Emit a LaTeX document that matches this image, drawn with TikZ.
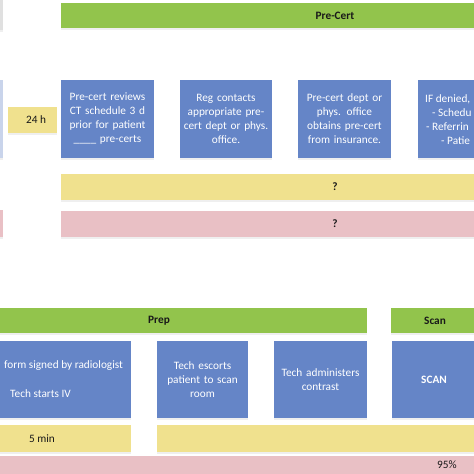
\documentclass[tikz,border=0pt]{standalone}
\usepackage{fontspec}
\setmainfont{Carlito}
\usetikzlibrary{shadows}
\definecolor{bargreen}{RGB}{146,196,76}
\definecolor{boxblue}{RGB}{101,133,199}
\definecolor{baryellow}{RGB}{240,225,142}
\definecolor{barpink}{RGB}{233,192,197}
\definecolor{txtdark}{RGB}{25,25,25}
\tikzset{
  rect/.style={anchor=north west, inner sep=0pt, outer sep=0pt, draw=none,
     drop shadow={opacity=0.12, shadow xshift=0pt, shadow yshift=-1.5pt}},
  greenbar/.style={rect, fill=bargreen},
  bluebox/.style={rect, fill=boxblue, text=white, align=center, font=\fontsize{11.3}{14}\selectfont},
  yellowbar/.style={rect, fill=baryellow},
  pinkbar/.style={rect, fill=barpink},
  bartext/.style={inner sep=0pt, text=txtdark, font=\fontsize{11.3}{13}\selectfont\bfseries},
  plaintext/.style={inner sep=0pt, text=txtdark, font=\fontsize{11.3}{13}\selectfont},
  whitetext/.style={inner sep=0pt, text=white, font=\fontsize{11.3}{13}\selectfont, anchor=west},
}
\begin{document}
\begin{tikzpicture}[x=1pt,y=-1pt]
\useasboundingbox (0,0) rectangle (474,474);
\fill[white] (0,0) rectangle (474,474);
\clip (0,0) rectangle (474,474);
% left slivers
\node[rect, fill=black!12, minimum width=2.5pt, minimum height=30pt] (s1) at (0,0) {};
\node[rect, fill=boxblue!35, minimum width=2.5pt, minimum height=78pt] (s2) at (0,80) {};
\node[rect, fill=barpink, minimum width=2.5pt, minimum height=27pt] (s3) at (0,210) {};
% Pre-Cert bar
\node[greenbar, minimum width=420pt, minimum height=25pt] (precert) at (61,3) {};
\node[bartext] (precertL) at (335,16) {Pre-Cert};
% 24 h
\node[yellowbar, minimum width=49pt, minimum height=26pt] (h24) at (8,107) {};
\node[plaintext] (h24L) at (36,120) {24 h};
% blue boxes top row
\node[bluebox, minimum width=93pt, minimum height=78pt, text width=93pt] (b1) at (61,80)
  {Pre-cert reviews\\CT schedule 3 d\\prior for patient\\\_\_\_\_ pre-certs};
\node[bluebox, minimum width=92pt, minimum height=78pt, text width=92pt] (b2) at (180,80)
  {Reg contacts\\appropriate pre-\\cert dept or phys.\\office.};
\node[bluebox, minimum width=93pt, minimum height=78pt, text width=93pt] (b3) at (298,80)
  {Pre-cert dept or\\phys. office\\obtains pre-cert\\from insurance.};
\node[bluebox, minimum width=80pt, minimum height=78pt] (b4) at (418,80) {};
\node[whitetext] (b4a) at (425,99) {IF denied,};
\node[whitetext] (b4b) at (432,113) {- Schedu};
\node[whitetext] (b4c) at (426,127) {- Referrin};
\node[whitetext] (b4d) at (441,141) {- Patie};
% ? bars
\node[yellowbar, minimum width=420pt, minimum height=26pt] (q1) at (61,174) {};
\node[bartext] (q1L) at (335,187) {?};
\node[pinkbar, minimum width=420pt, minimum height=26pt] (q2) at (61,211) {};
\node[bartext] (q2L) at (335,224) {?};
% Prep / Scan bars
\node[greenbar, minimum width=367pt, minimum height=25pt] (prep) at (0,308) {};
\node[bartext] (prepL) at (159,321) {Prep};
\node[greenbar, minimum width=90pt, minimum height=25pt] (scan) at (391,308) {};
\node[bartext] (scanL) at (435,321) {Scan};
% bottom blue boxes
\node[bluebox, minimum width=131pt, minimum height=77pt] (c1) at (0,341) {};
\node[whitetext] (c1a) at (4,366) {form signed by radiologist};
\node[whitetext] (c1b) at (10,394) {Tech starts IV};
\node[bluebox, minimum width=91pt, minimum height=77pt, text width=91pt] (c2) at (157,341)
  {Tech escorts\\patient to scan\\room};
\node[bluebox, minimum width=93pt, minimum height=77pt, text width=93pt] (c3) at (274,341)
  {Tech administers\\contrast};
\node[bluebox, minimum width=90pt, minimum height=77pt] (c4) at (392,341) {};
\node[inner sep=0pt, text=white, font=\fontsize{11.3}{13}\selectfont\bfseries] (c4L) at (434,380) {SCAN};
% bottom yellow
\node[yellowbar, minimum width=131pt, minimum height=27pt] (m5) at (0,425) {};
\node[plaintext] (m5L) at (42,439) {5 min};
\node[yellowbar, minimum width=330pt, minimum height=27pt] (y2) at (157,425) {};
% bottom pink
\node[pinkbar, minimum width=480pt, minimum height=24pt] (p2) at (0,456) {};
\node[plaintext] (p2L) at (447,465) {95\%};
\end{tikzpicture}
\end{document}
